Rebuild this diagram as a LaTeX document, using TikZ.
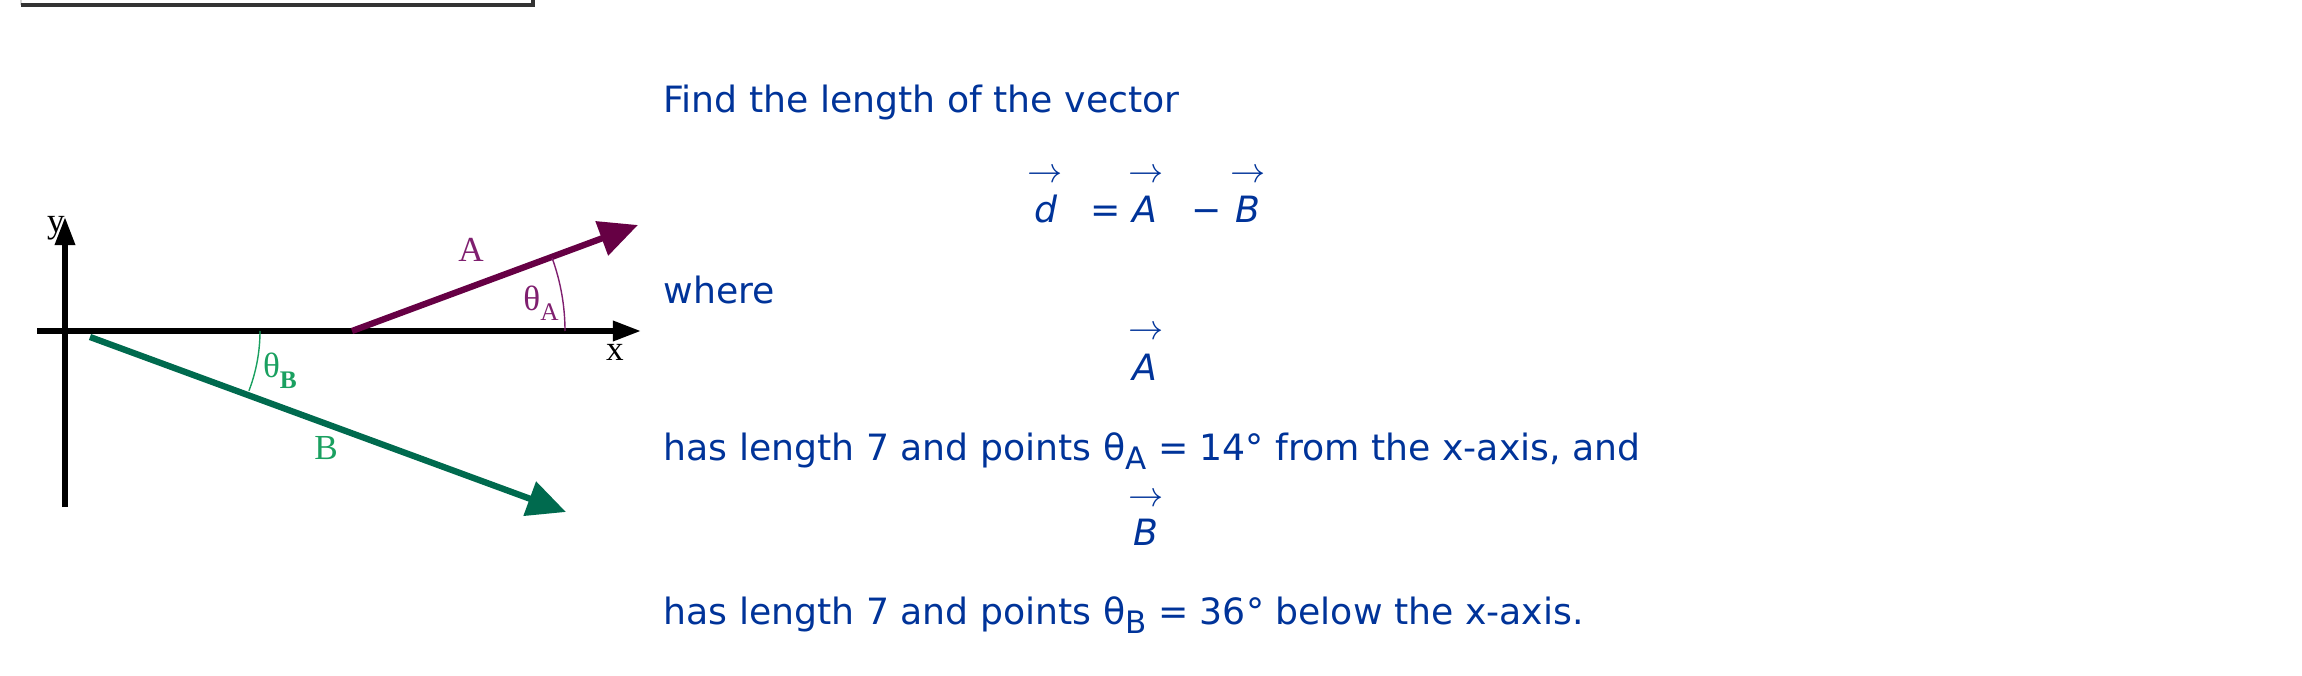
\documentclass[tikz,border=0pt]{standalone}
\usepackage{fontspec}
\setmainfont{DejaVu Sans}
\newfontfamily\figfont{Liberation Serif}
\usetikzlibrary{arrows.meta}
\definecolor{qblue}{HTML}{003399}
\definecolor{vecA}{HTML}{660044}
\definecolor{labA}{HTML}{7F1F6F}
\definecolor{vecB}{HTML}{006A4E}
\definecolor{labB}{HTML}{1AA060}
\newcommand{\subA}[1]{\raisebox{-2.8pt}{\fontsize{8.8}{10}\selectfont #1}}
\newcommand{\varr}{$\rightarrow$}
\begin{document}
\begin{tikzpicture}[x=0.01cm,y=-0.01cm]
            \tikzstyle{every node}+=[inner sep=0pt]
            \tikzstyle{txt}=[text=qblue, anchor=base west, font=\fontsize{10.3}{12}\selectfont]
            \tikzstyle{sym}=[text=qblue, anchor=base, font=\fontsize{10.3}{12}\selectfont]
            \tikzstyle{lbl}=[font=\figfont\fontsize{10}{11}\selectfont]
            \tikzstyle{axis}=[black, line width=1.6pt, -{Triangle[length=8pt,width=5.5pt]}]
            \tikzstyle{arrA}=[vecA, line width=1.8pt, -{Triangle[length=11pt,width=10pt]}]
            \tikzstyle{arrB}=[vecB, line width=1.8pt, -{Triangle[length=11pt,width=10pt]}]
            \useasboundingbox (0,0) rectangle (2302,676);
                % box cut off at the top
                \draw [gray!30, line width=0.5pt] (21,-5) -- (21,5);
                \draw [black!80, line width=1pt] (21,5) -- (533,5) -- (533,-5);
                % axes
                \coordinate (xl) at (37,331);
                \coordinate (xr) at (641,331);
                \coordinate (yb) at (65,507);
                \coordinate (yt) at (65,217);
                \draw [axis] (xl) -- (xr);
                \draw [axis] (yb) -- (yt);
                \node [lbl] (xlab) at (615,352) {x};
                \node [lbl] (ylab) at (56,228) {y};
                % vector A
                \coordinate (a0) at (352,331);
                \coordinate (a1) at (638,225);
                \draw [arrA] (a0) -- (a1);
                \draw [labA, line width=0.4pt] (565,331) arc [start angle=0, end angle=-20, radius=213];
                \node [lbl, text=labA] (labelA) at (471,250) {A};
                \node [lbl, text=labA] (thetaA) at (541,303) {θ\raisebox{-3pt}{\fontsize{7.2}{8}\selectfont A}};
                % vector B
                \coordinate (b0) at (90,337);
                \coordinate (b1) at (566,512);
                \draw [arrB] (b0) -- (b1);
                \draw [labB, line width=0.4pt] (260,331) arc [start angle=0, end angle=21, radius=167];
                \node [lbl, text=labB] (labelB) at (326,448) {B};
                \node [lbl, text=labB] (thetaB) at (280,371) {θ\raisebox{-3pt}{\fontsize{7.2}{8}\selectfont\bfseries B}};
                % question text
                \node [txt] (find) at (663,113) {Find the length of the vector};
                \node [sym] (arrd) at (1045,183) {\varr};
                \node [sym] (arrAA) at (1146,183) {\varr};
                \node [sym] (arrBB) at (1248,183) {\varr};
                \node [sym] (symd) at (1046,223) {\itshape d};
                \node [sym] (eq) at (1106,223) {=};
                \node [sym] (symA) at (1145,223) {\itshape A};
                \node [sym] (minus) at (1207,223) {−};
                \node [sym] (symB) at (1248,223) {\itshape B};
                \node [txt] (where) at (663,304) {where};
                \node [sym] (arrA2) at (1146,340) {\varr};
                \node [sym] (vA) at (1145,380) {\itshape A};
                \node [txt] (lineA) at (663,460) {has length 7 and points θ\subA{A} = 14° from the x-axis, and};
                \node [sym] (arrB2) at (1146,506) {\varr};
                \node [sym] (vB) at (1146,545) {\itshape B};
                \node [txt] (lineB) at (663,624) {has length 7 and points θ\subA{B} = 36° below the x-axis.};
\end{tikzpicture}
\end{document}
